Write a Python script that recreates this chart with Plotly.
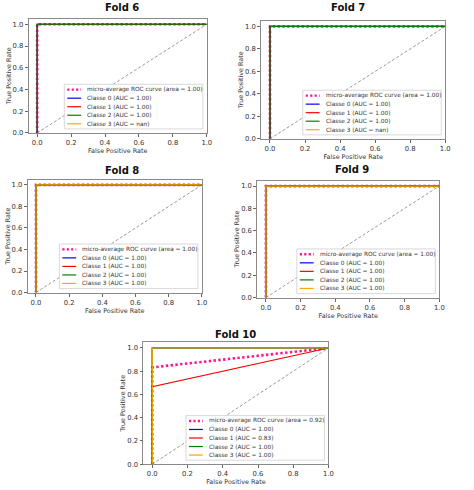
import math
import plotly.graph_objects as go

# ---------------- data ----------------
fold_titles = ["Fold 6", "Fold 7", "Fold 8", "Fold 9", "Fold 10"]

micro_fpr = [
    [0.0, 0.0, 1.0],
    [0.0, 0.0, 1.0],
    [0.0, 0.0, 1.0],
    [0.0, 0.0, 1.0],
    [0.0, 0.0, 1.0],
]
micro_tpr = [
    [0.0, 1.0, 1.0],
    [0.0, 1.0, 1.0],
    [0.0, 1.0, 1.0],
    [0.0, 1.0, 1.0],
    [0.0, 0.833, 1.0],
]
micro_auc = [1.00, 1.00, 1.00, 1.00, 0.92]

class_names = ["Classe 0", "Classe 1", "Classe 2", "Classe 3"]

classe0_fpr = [[0.0, 0.0, 1.0], [0.0, 0.0, 1.0], [0.0, 0.0, 1.0], [0.0, 0.0, 1.0], [0.0, 0.0, 1.0]]
classe0_tpr = [[0.0, 1.0, 1.0], [0.0, 1.0, 1.0], [0.0, 1.0, 1.0], [0.0, 1.0, 1.0], [0.0, 1.0, 1.0]]
classe0_auc = [1.00, 1.00, 1.00, 1.00, 1.00]

classe1_fpr = [[0.0, 0.0, 1.0], [0.0, 0.0, 1.0], [0.0, 0.0, 1.0], [0.0, 0.0, 1.0], [0.0, 0.0, 1.0]]
classe1_tpr = [[0.0, 1.0, 1.0], [0.0, 1.0, 1.0], [0.0, 1.0, 1.0], [0.0, 1.0, 1.0], [0.0, 0.667, 1.0]]
classe1_auc = [1.00, 1.00, 1.00, 1.00, 0.83]

classe2_fpr = [[0.0, 0.0, 1.0], [0.0, 0.0, 1.0], [0.0, 0.0, 1.0], [0.0, 0.0, 1.0], [0.0, 0.0, 1.0]]
classe2_tpr = [[0.0, 1.0, 1.0], [0.0, 1.0, 1.0], [0.0, 1.0, 1.0], [0.0, 1.0, 1.0], [0.0, 1.0, 1.0]]
classe2_auc = [1.00, 1.00, 1.00, 1.00, 1.00]

# Classe 3 has no positive samples in folds 6 and 7 -> undefined curve (nan)
classe3_fpr = [None, None, [0.0, 0.0, 1.0], [0.0, 0.0, 1.0], [0.0, 0.0, 1.0]]
classe3_tpr = [None, None, [0.0, 1.0, 1.0], [0.0, 1.0, 1.0], [0.0, 1.0, 1.0]]
classe3_auc = [float("nan"), float("nan"), 1.00, 1.00, 1.00]

chance_x = [0.0, 1.0]
chance_y = [0.0, 1.0]

axis_ticks = [0.0, 0.2, 0.4, 0.6, 0.8, 1.0]

# ---------------- style / layout ----------------
W, H = 474, 490
class_colors = ["blue", "red", "green", "orange"]
micro_color = "deeppink"
FONT = "DejaVu Sans"

# axes frames in pixels: (left, top, right, bottom)
frames_px = [
    (29, 19, 209, 134),
    (264, 21, 450, 140),
    (28, 181, 204, 295),
    (260, 182, 444, 300),
    (145, 345, 332, 468),
]
titles_px = [(123, 8), (352, 8), (123, 172), (356, 171), (238, 337)]


def px(x):
    return x / W


def py(y):
    return 1 - y / H


class_fpr = [classe0_fpr, classe1_fpr, classe2_fpr, classe3_fpr]
class_tpr = [classe0_tpr, classe1_tpr, classe2_tpr, classe3_tpr]
class_auc = [classe0_auc, classe1_auc, classe2_auc, classe3_auc]


def fmt_auc(v):
    return "nan" if (v is None or (isinstance(v, float) and math.isnan(v))) else f"{v:.2f}"


fig = go.Figure()
shapes = []
annotations = []
layout_axes = {}

for i in range(5):
    sfx = "" if i == 0 else str(i + 1)
    xref, yref = "x" + sfx, "y" + sfx
    L, T, R, B = frames_px[i]

    # micro-average (drawn first, under class curves)
    fig.add_trace(go.Scatter(
        x=micro_fpr[i], y=micro_tpr[i], mode="lines", xaxis=xref, yaxis=yref,
        line=dict(color=micro_color, width=2.6, dash="2.4px,2.4px"),
        showlegend=False, hoverinfo="skip"))
    for c in range(4):
        if class_fpr[c][i] is None:
            continue
        fig.add_trace(go.Scatter(
            x=class_fpr[c][i], y=class_tpr[c][i], mode="lines", xaxis=xref, yaxis=yref,
            line=dict(color=class_colors[c], width=1.2),
            showlegend=False, hoverinfo="skip"))
    fig.add_trace(go.Scatter(
        x=chance_x, y=chance_y, mode="lines", xaxis=xref, yaxis=yref,
        line=dict(color="#555555", width=0.6, dash="3px,2px"),
        showlegend=False, hoverinfo="skip"))

    common = dict(
        showline=True, mirror=True, linecolor="#8a8a8a", linewidth=0.9,
        ticks="outside", ticklen=3, tickwidth=0.8, tickcolor="#666666",
        tickfont=dict(family=FONT, size=6.8, color="#333333"),
        tickvals=axis_ticks, tickformat=".1f",
        showgrid=False, zeroline=False, fixedrange=True,
    )
    layout_axes["xaxis" + sfx] = dict(
        common, domain=[px(L), px(R)], range=[-0.05, 1.0], anchor=yref,
        title=dict(text="False Positive Rate", font=dict(family=FONT, size=6.4, color="#333333"), standoff=0),
    )
    layout_axes["yaxis" + sfx] = dict(
        common, domain=[py(B), py(T)], range=[0.0, 1.05], anchor=xref,
        title=dict(text="True Positive Rate", font=dict(family=FONT, size=6.4, color="#333333"), standoff=0),
    )

    # subplot title
    tx, ty = titles_px[i]
    annotations.append(dict(
        x=px(tx), y=py(ty), xref="paper", yref="paper", text="<b>" + fold_titles[i] + "</b>",
        showarrow=False, xanchor="center", yanchor="middle",
        font=dict(family=FONT, size=10, color="#111111")))

    # legend (lower right, matplotlib-like)
    lw_box, lh_box = 140, 45
    bR, bB = R - 4, B - 4
    bL, bT = bR - lw_box, bB - lh_box
    shapes.append(dict(type="rect", xref="paper", yref="paper",
                       x0=px(bL), x1=px(bR), y0=py(bB), y1=py(bT),
                       line=dict(color="#cfcfcf", width=0.8), fillcolor="rgba(255,255,255,0.85)",
                       layer="above"))
    labels = [f"micro-average ROC curve (area = {fmt_auc(micro_auc[i])})"] + [
        f"{class_names[c]} (AUC = {fmt_auc(class_auc[c][i])})" for c in range(4)]
    for r, lab in enumerate(labels):
        cy = bT + 5.4 + 8.6 * r
        if r == 0:
            sline = dict(color=micro_color, width=2.4, dash="2.2px,2.2px")
        else:
            sline = dict(color=class_colors[r - 1], width=1.2)
        shapes.append(dict(type="line", xref="paper", yref="paper",
                           x0=px(bL + 3), x1=px(bL + 17), y0=py(cy), y1=py(cy),
                           line=sline, layer="above"))
        annotations.append(dict(
            x=px(bL + 21), y=py(cy), xref="paper", yref="paper", text=lab,
            showarrow=False, xanchor="left", yanchor="middle",
            font=dict(family=FONT, size=5.8, color="#333333")))

fig.update_layout(
    width=W, height=H,
    margin=dict(l=0, r=0, t=0, b=0),
    paper_bgcolor="white", plot_bgcolor="white",
    showlegend=False,
    shapes=shapes, annotations=annotations,
    **layout_axes,
)

fig.write_html("out.html", config={"displayModeBar": False})
